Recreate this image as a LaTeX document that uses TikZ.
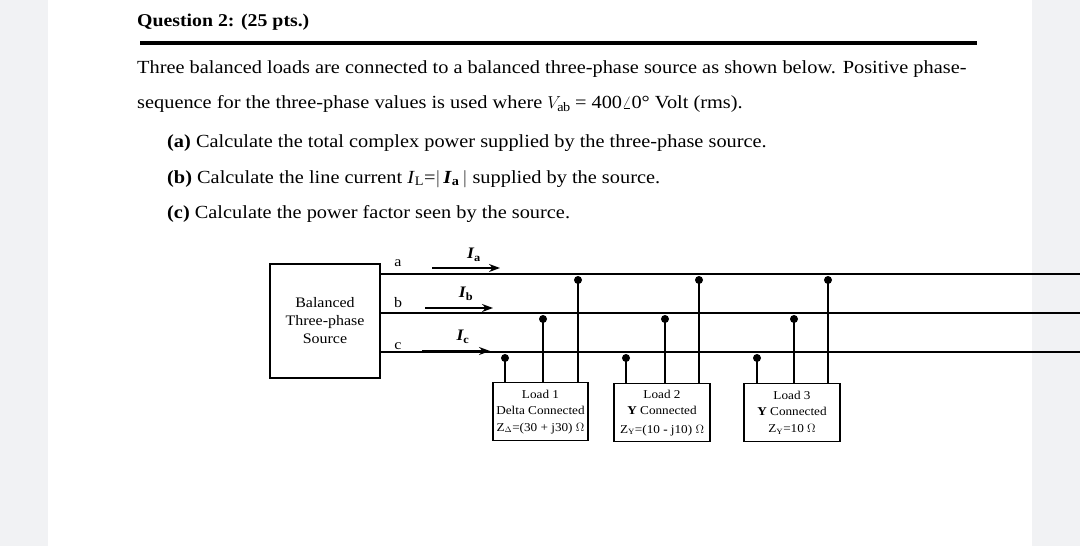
\documentclass[tikz,border=0pt]{standalone}
\usepackage{fontspec}
\setmainfont{Liberation Serif}[FakeStretch=1.1]
\usetikzlibrary{arrows.meta}
\definecolor{pagegray}{HTML}{F1F2F4}
\begin{document}
\begin{tikzpicture}[x=1pt,y=-1pt,
  txt/.style={anchor=base west,inner sep=0pt,font=\fontsize{18.5}{20}\selectfont},
  small/.style={font=\fontsize{14.5}{16}\selectfont,inner sep=0pt},
  tiny/.style={font=\fontsize{12}{16.5}\selectfont,align=center,inner sep=0pt},
  lbl/.style={inner sep=0pt,font=\bfseries\itshape\fontsize{16}{16}\selectfont},
  wire/.style={line width=1.4pt},
  cur/.style={line width=1.4pt,-{Stealth[length=11pt,width=8pt]}},
  tap/.style={circle,fill=black,inner sep=0pt,minimum size=8pt}]
\useasboundingbox (0,0) rectangle (1080,546);
\fill[pagegray] (0,0) rectangle (1080,546);
\fill[white] (48,0) rectangle (1032,546);
% header
\node[txt,font=\bfseries\fontsize{18}{20}\selectfont] (q) at (137,27) {Question 2: (25 pts.)};
\draw[line width=4pt] (140,43) -- (977,43);
\node[txt,text width=848pt,align=justify] (l1) at (137,73) {Three balanced loads are connected to a balanced three-phase source as shown below. Positive phase-};
\node[txt] (l2) at (137,108) {sequence for the three-phase values is used where $V_{\mathrm{ab}}$ = 400$\angle$0\textdegree{} Volt (rms).};
\node[txt] (pa) at (167,147) {\textbf{(a)} Calculate the total complex power supplied by the three-phase source.};
\node[txt] (pb) at (167,183) {\textbf{(b)} Calculate the line current \textit{I}\textsubscript{L}=$|$\,\textbf{\textit{I}}\textbf{\textsubscript{a}}\,$|$ supplied by the source.};
\node[txt] (pc) at (167,218) {\textbf{(c)} Calculate the power factor seen by the source.};
% source
\node[draw,wire,minimum width=110pt,minimum height=114pt,small,align=center] (src) at (325,321)
  {Balanced\\[2pt]Three-phase\\[2pt]Source};
\coordinate (ea) at (1080,274); \coordinate (eb) at (1080,313); \coordinate (ec) at (1080,352);
\draw[wire] (src.east |- ea) -- (ea);
\draw[wire] (src.east |- eb) -- (eb);
\draw[wire] (src.east |- ec) -- (ec);
\node[small] (la) at (398,263) {a};
\node[small] (lb) at (398,303) {b};
\node[small] (lc) at (398,346) {c};
% currents
\coordinate (ia1) at (432,268); \coordinate (ia2) at (500,268);
\coordinate (ib1) at (425,308); \coordinate (ib2) at (493,308);
\coordinate (ic1) at (422,351); \coordinate (ic2) at (490,351);
\draw[cur] (ia1) -- (ia2); \draw[cur] (ib1) -- (ib2); \draw[cur] (ic1) -- (ic2);
\node[lbl] (tia) at (474,255) {I\textsubscript{\upshape a}};
\node[lbl] (tib) at (466,294) {I\textsubscript{\upshape b}};
\node[lbl] (tic) at (463,337) {I\textsubscript{\upshape c}};
% loads
\node[draw,wire,minimum width=95pt,minimum height=58pt,tiny,anchor=north] (L1) at (540.5,382)
  {Load 1\\Delta Connected\\Z\textsubscript{$\Delta$}=(30 + j30) $\Omega$};
\node[draw,wire,minimum width=96pt,minimum height=58pt,tiny,anchor=north] (L2) at (662,383)
  {Load 2\\\textbf{Y} Connected\\[2pt]Z\textsubscript{Y}=(10 \textbf{-} j10) $\Omega$};
\node[draw,wire,minimum width=96pt,minimum height=58pt,tiny,anchor=north] (L3) at (792,383)
  {Load 3\\\textbf{Y} Connected\\Z\textsubscript{Y}=10 $\Omega$};
\foreach \L/\xc/\xb/\xa in {L1/505/543/578, L2/626/665/699, L3/757/794/828}{
  \node[tap] (\L c) at (\xc,358) {};
  \node[tap] (\L b) at (\xb,319) {};
  \node[tap] (\L a) at (\xa,280) {};
  \draw[wire] (\L c.center) -- (\L c.center |- \L.north);
  \draw[wire] (\L b.center) -- (\L b.center |- \L.north);
  \draw[wire] (\L a.center) -- (\L a.center |- \L.north);
}
\end{tikzpicture}
\end{document}
